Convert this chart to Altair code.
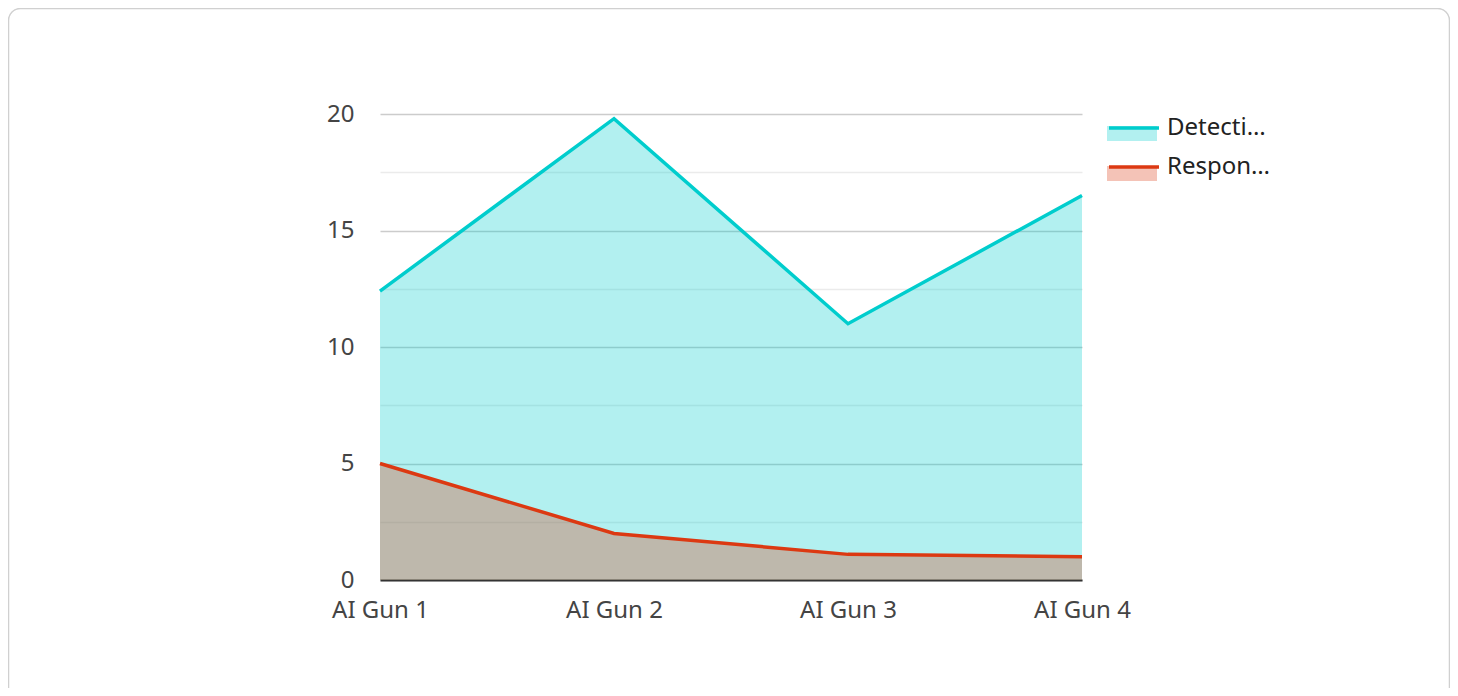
import altair as alt
import pandas as pd

categories = ["AI Gun 1", "AI Gun 2", "AI Gun 3", "AI Gun 4"]
series_names = ["Detection Time", "Response Time"]
detection = [12.4, 19.8, 11.0, 16.5]
response = [5.0, 2.0, 1.1, 1.0]
y_ticks = [0, 2.5, 5, 7.5, 10, 12.5, 15, 17.5, 20]

rows = []
for name, vals in zip(series_names, [detection, response]):
    for c, v in zip(categories, vals):
        rows.append({"gun": c, "value": v, "series": name, "series_line": name})
df = pd.DataFrame(rows)

colors = ["#00cdcd", "#dc3912"]
FONT = "Noto Sans"

x_enc = alt.X("gun:N", sort=categories, scale=alt.Scale(type="point", padding=0),
              axis=alt.Axis(title=None, labelAngle=0, ticks=False, domain=True, domainColor="#333333",
                            domainWidth=2, grid=False, labelFontSize=24, labelColor="#444444",
                            labelFont=FONT, labelPadding=18))
y_enc = alt.Y("value:Q", stack=None, scale=alt.Scale(domain=[0, 20], nice=False),
              axis=alt.Axis(title=None, values=y_ticks, ticks=False, domain=False,
                            labelExpr="datum.value % 5 === 0 ? datum.label : ''",
                            gridColor={"condition": {"test": "datum.value % 5 === 0", "value": "#cccccc"},
                                       "value": "#ebebeb"},
                            gridWidth=1.5,
                            labelFontSize=24, labelColor="#444444", labelFont=FONT, labelPadding=26))

fill_legend = alt.Legend(title=None, orient="none", legendX=732, legendY=-8, direction="vertical",
                         symbolType="M-1.25,0H1.25V0.75H-1.25Z", symbolSize=1600,
                         symbolOpacity=0.3, symbolStrokeWidth=0, labelExpr="''",
                         labelFontSize=24, labelFont=FONT, labelOffset=11, labelLimit=108,
                         rowPadding=5, padding=0)
stroke_legend = alt.Legend(title=None, orient="none", legendX=732, legendY=-8, direction="vertical",
                           symbolType="M-1.25,0H1.25", symbolSize=1600, symbolStrokeWidth=3.5,
                           labelFontSize=24, labelFont=FONT, labelColor="#222222", labelOffset=11,
                           labelLimit=108, rowPadding=5, padding=0)

areas = []
for name in series_names:
    areas.append(
        alt.Chart(df).transform_filter(alt.datum.series == name).mark_area(opacity=0.3).encode(
            x=x_enc, y=y_enc,
            fill=alt.Fill("series:N", scale=alt.Scale(range=colors), legend=fill_legend),
        )
    )

lines = alt.Chart(df).mark_line(strokeWidth=3.5).encode(
    x=x_enc, y=y_enc,
    stroke=alt.Stroke("series_line:N", scale=alt.Scale(range=colors), legend=stroke_legend),
)

card = alt.Chart(pd.DataFrame({"a": [0]})).mark_rect(
    fill="transparent", stroke="#d0d0d0", strokeWidth=1.5, cornerRadius=12
).encode(x=alt.value(-371.5), x2=alt.value(1069.5), y=alt.value(-105.5), y2=alt.value(700))

chart = alt.layer(card, *areas, lines).properties(
    width=702, height=466,
    padding={"left": 372, "top": 106, "right": 368, "bottom": 108},
    autosize=alt.AutoSizeParams(type="none"),
    view=alt.ViewBackground(stroke="transparent", strokeWidth=0),
).configure_view(stroke="transparent", strokeWidth=0).configure_axis(
    domain=False
).configure(font=FONT)

chart.save("out.html", embed_options={"renderer": "svg", "actions": False})
